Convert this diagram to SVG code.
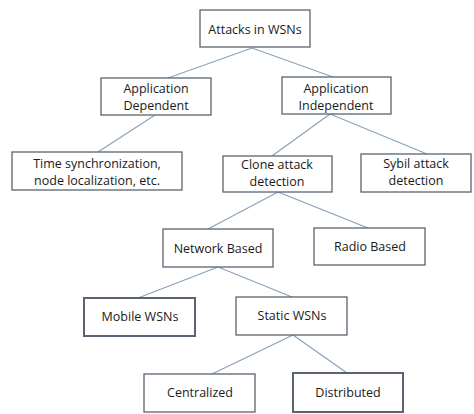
<svg xmlns="http://www.w3.org/2000/svg" width="474" height="414" viewBox="0 0 474 414">
<style>
.box{fill:#fff;stroke:#5a6470;stroke-width:1.3}
.thick{stroke-width:2}
.t{font-family:"Open Sans","Liberation Sans",sans-serif;font-size:12.5px;fill:#1a1a1a;text-anchor:middle}
.c line{stroke:#8aa2ba;stroke-width:1.2}
</style>
<rect width="474" height="414" fill="#fff"/>
<g class="c" id="connectors">
<line x1="252" y1="48" x2="168" y2="78"/>
<line x1="252" y1="48" x2="333" y2="77"/>
<line x1="155" y1="115" x2="98" y2="152"/>
<line x1="330" y1="114" x2="272" y2="156"/>
<line x1="330" y1="114" x2="427" y2="154"/>
<line x1="278" y1="192" x2="208" y2="229"/>
<line x1="278" y1="192" x2="368" y2="228"/>
<line x1="218" y1="267" x2="138" y2="298"/>
<line x1="218" y1="267" x2="292" y2="297"/>
<line x1="293" y1="335" x2="212" y2="374"/>
<line x1="293" y1="335" x2="347" y2="373"/>
</g>
<g id="attacks"><rect class="box" x="200" y="10" width="110" height="37"/><text class="t" x="255" y="34">Attacks in WSNs</text></g>
<g id="appdep"><rect class="box" x="101" y="78" width="110" height="37"/><text class="t" x="156" y="93">Application</text><text class="t" x="156" y="110">Dependent</text></g>
<g id="appindep"><rect class="box" x="282" y="77" width="109" height="37"/><text class="t" x="336" y="93">Application</text><text class="t" x="336" y="110">Independent</text></g>
<g id="timesync"><rect class="box" x="12" y="152" width="170" height="38"/><text class="t" x="97" y="168">Time synchronization,</text><text class="t" x="97" y="185">node localization, etc.</text></g>
<g id="clone"><rect class="box" x="223" y="156" width="109" height="36"/><text class="t" x="277" y="169">Clone attack</text><text class="t" x="277" y="186">detection</text></g>
<g id="sybil"><rect class="box" x="361" y="154" width="110" height="38"/><text class="t" x="416" y="168">Sybil attack</text><text class="t" x="416" y="185">detection</text></g>
<g id="network"><rect class="box" x="163" y="229" width="110" height="38"/><text class="t" x="218" y="253">Network Based</text></g>
<g id="radio"><rect class="box" x="314" y="228" width="111" height="37"/><text class="t" x="370" y="251">Radio Based</text></g>
<g id="mobile"><rect class="box thick" x="84" y="298" width="111" height="38"/><text class="t" x="140" y="321">Mobile WSNs</text></g>
<g id="static"><rect class="box" x="236" y="297" width="111" height="38"/><text class="t" x="292" y="320">Static WSNs</text></g>
<g id="central"><rect class="box" x="144" y="374" width="111" height="38"/><text class="t" x="200" y="397">Centralized</text></g>
<g id="distrib"><rect class="box thick" x="293" y="373" width="110" height="39"/><text class="t" x="348" y="397">Distributed</text></g>
</svg>
